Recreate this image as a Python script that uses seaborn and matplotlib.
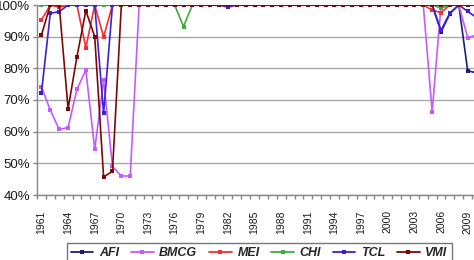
import matplotlib
matplotlib.use("Agg")
import numpy as np
import pandas as pd
import seaborn as sns
import matplotlib.pyplot as plt
from matplotlib.lines import Line2D
from matplotlib.ticker import FixedLocator, FuncFormatter

years = list(range(1961, 2011))

AFI = [100, 100, 100, 100, 100, 100, 100, 100, 100, 100,
       100, 100, 100, 100, 100, 100, 100, 100, 100, 100,
       100, 100, 100, 100, 100, 100, 100, 100, 100, 100,
       100, 100, 100, 100, 100, 100, 100, 100, 100, 100,
       100, 100, 100, 100, 100, 91.5, 97.3, 100, 79.2, 78.6]
BMCG = [74.2, 66.8, 60.7, 61.3, 73.4, 79.5, 54.4, 76.3, 49.0, 46.0,
        46.0, 100, 100, 100, 100, 100, 100, 100, 100, 100,
        100, 100, 100, 100, 100, 100, 100, 100, 100, 100,
        100, 100, 100, 100, 100, 100, 100, 100, 100, 100,
        100, 100, 100, 100, 66.2, 100, 100, 100, 89.7, 90.5]
MEI = [95.3, 100, 99.3, 100, 100, 86.5, 100, 89.9, 100, 100,
       100, 100, 100, 100, 100, 100, 100, 100, 100, 100,
       100, 100, 100, 100, 100, 100, 100, 100, 100, 100,
       100, 100, 100, 100, 100, 100, 100, 100, 100, 100,
       100, 100, 100, 100, 98.4, 97.6, 100, 100, 100, 100]
CHI = [100, 100, 100, 100, 100, 100, 100, 100, 100, 100,
       100, 100, 100, 100, 100, 100, 93.2, 100, 100, 100,
       100, 100, 100, 100, 100, 100, 100, 100, 100, 100,
       100, 100, 100, 100, 100, 100, 100, 100, 100, 100,
       100, 100, 100, 100, 100, 99.0, 100, 100, 100, 100]
TCL = [72.3, 97.4, 97.9, 100, 100, 100, 100, 65.8, 100, 100,
       100, 100, 100, 100, 100, 100, 100, 100, 100, 100,
       100, 99.3, 100, 100, 100, 100, 100, 100, 100, 100,
       100, 100, 100, 100, 100, 100, 100, 100, 100, 100,
       100, 100, 100, 100, 100, 92.0, 97.5, 100, 98.0, 96.0]
VMI = [90.5, 100, 100, 67.2, 83.7, 98.2, 90.0, 45.7, 47.5, 100,
       100, 100, 100, 100, 100, 100, 100, 100, 100, 100,
       100, 100, 100, 100, 100, 100, 100, 100, 100, 100,
       100, 100, 100, 100, 100, 100, 100, 100, 100, 100,
       100, 100, 100, 100, 100, 100, 100, 100, 100, 100]

series_names = ["AFI", "BMCG", "MEI", "CHI", "TCL", "VMI"]
series_values = [AFI, BMCG, MEI, CHI, TCL, VMI]
palette = {"AFI": "#1c1c7c", "BMCG": "#c15cff", "MEI": "#f23030",
           "CHI": "#3fae3f", "TCL": "#3a22d2", "VMI": "#7e0808"}

rows = []
for name, vals in zip(series_names, series_values):
    for i, (yr, v) in enumerate(zip(years, vals)):
        rows.append({"idx": i, "year": yr, "value": v, "series": name})
df = pd.DataFrame(rows)

sns.set_theme(style="white")
plt.rcParams['font.family'] = ['Liberation Sans', 'DejaVu Sans']

W, H = 474, 260
fig = plt.figure(figsize=(W / 100, H / 100), dpi=100)
ax = fig.add_axes([37 / W, 1 - 195 / H, 444 / W, 190 / H])

sns.lineplot(data=df, x="idx", y="value", hue="series", hue_order=series_names,
             palette=palette, marker="s", markersize=3, markeredgewidth=0,
             linewidth=1.2, legend=False, errorbar=None, ax=ax)

ax.set_xlim(-0.5, len(years) - 0.5)
ax.set_ylim(40, 100)
ax.set_xlabel("")
ax.set_ylabel("")

ax.set_yticks([40, 50, 60, 70, 80, 90, 100])
ax.yaxis.set_major_formatter(FuncFormatter(lambda v, p: f"{int(v)}%"))
ax.tick_params(axis="y", which="major", left=True, length=3, width=1,
               color="#868686", pad=2, labelsize=9.5, labelcolor="#1a1a1a")

label_pos = list(range(0, len(years), 3))
ax.xaxis.set_major_locator(FixedLocator(label_pos))
ax.set_xticklabels([str(years[i]) for i in label_pos], rotation=90)
ax.xaxis.set_minor_locator(FixedLocator(np.arange(-0.5, len(years), 1.0)))
ax.tick_params(axis="x", which="major", bottom=True, length=0, pad=11,
               labelsize=7.5, labelcolor="#1a1a1a")
ax.tick_params(axis="x", which="minor", bottom=True, length=3, width=1,
               color="#868686")

ax.yaxis.grid(True, color="#a8a8a8", linewidth=1)
ax.xaxis.grid(False)
ax.set_axisbelow(True)
for s in ["top", "right"]:
    ax.spines[s].set_visible(False)
for s in ["left", "bottom"]:
    ax.spines[s].set_color("#868686")
    ax.spines[s].set_linewidth(1)

handles = [Line2D([0], [0], color=palette[n], linewidth=1.3, marker="s",
                  markersize=2.5, markeredgewidth=0) for n in series_names]
leg = fig.legend(handles, series_names, loc="upper center",
                 bbox_to_anchor=(0.547, 0.066), ncol=6, frameon=True,
                 fancybox=False, edgecolor="#555555",
                 prop=dict(weight="bold", style="italic", size=9),
                 handlelength=1.8, handletextpad=0.45, columnspacing=0.95,
                 borderpad=0.35, borderaxespad=0)
leg.get_frame().set_linewidth(1)

fig.savefig("out.png", dpi=100)
